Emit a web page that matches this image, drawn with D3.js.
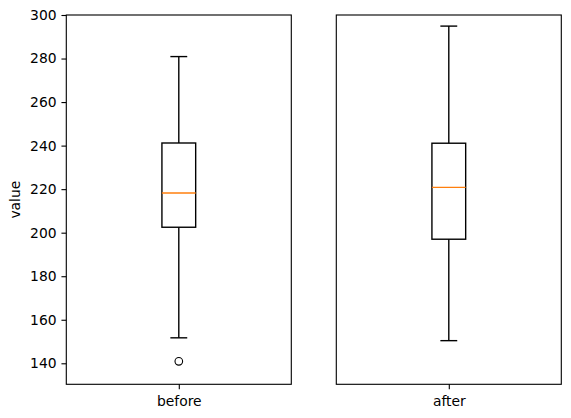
<!DOCTYPE html>
<html><head><meta charset="utf-8">
<script src="https://cdn.jsdelivr.net/npm/d3@7"></script>
<style>body{margin:0;background:#fff}svg{display:block}text{font-family:"DejaVu Sans",sans-serif}</style>
</head><body><svg id="c" width="571" height="418"></svg>
<script>
const categories = ["before", "after"];
const whiskerLow = [151.7, 150.4];
const q1 = [202.5, 197.0];
const median = [218.2, 220.8];
const q3 = [241.2, 241.1];
const whiskerHigh = [280.9, 294.9];
const outliers = [[140.9], []];
const yTicks = [140, 160, 180, 200, 220, 240, 260, 280, 300];
const yDomain = [130.35, 300];

const svg = d3.select("#c");
const plotTop = 15, plotBottom = 384.3;
const panels = [{left: 66.3, right: 291.3}, {left: 336.3, right: 561.3}];
const y = d3.scaleLinear().domain(yDomain).range([plotBottom, plotTop]);
const tick = 4.86, pad = 4.86, lw = 1.39, spine = 1.11;

categories.forEach((cat, i) => {
  const p = panels[i];
  const x = d3.scaleLinear().domain([0.5, 1.5]).range([p.left, p.right]);
  const g = svg.append("g");
  const cx = x(1), bw = x(1.075) - x(0.925), cw = bw / 2;
  g.append("line").attr("x1", cx).attr("x2", cx).attr("y1", y(whiskerLow[i])).attr("y2", y(q1[i])).attr("stroke", "#000").attr("stroke-width", lw);
  g.append("line").attr("x1", cx).attr("x2", cx).attr("y1", y(q3[i])).attr("y2", y(whiskerHigh[i])).attr("stroke", "#000").attr("stroke-width", lw);
  [whiskerLow[i], whiskerHigh[i]].forEach(v => {
    g.append("line").attr("x1", cx - cw / 2).attr("x2", cx + cw / 2).attr("y1", y(v)).attr("y2", y(v)).attr("stroke", "#000").attr("stroke-width", lw);
  });
  g.append("rect").attr("x", cx - bw / 2).attr("width", bw).attr("y", y(q3[i])).attr("height", y(q1[i]) - y(q3[i]))
    .attr("fill", "none").attr("stroke", "#000").attr("stroke-width", lw);
  g.append("line").attr("x1", cx - bw / 2).attr("x2", cx + bw / 2).attr("y1", y(median[i])).attr("y2", y(median[i])).attr("stroke", "#ff7f0e").attr("stroke-width", lw);
  g.selectAll("circle.o").data(outliers[i]).join("circle").attr("cx", cx).attr("cy", d => y(d)).attr("r", 3.8)
    .attr("fill", "none").attr("stroke", "#000").attr("stroke-width", 1.1);
  const xa = svg.append("g").attr("transform", `translate(0,${plotBottom})`)
    .call(d3.axisBottom(x).tickValues([1]).tickFormat(() => cat).tickSize(tick).tickPadding(pad + 1.8));
  xa.select(".domain").remove();
  xa.selectAll("line").attr("stroke-width", spine);
  xa.selectAll("text").attr("font-size", 13.89).attr("fill", "#000");
  svg.append("rect").attr("x", p.left).attr("y", plotTop).attr("width", p.right - p.left).attr("height", plotBottom - plotTop)
    .attr("fill", "none").attr("stroke", "#000").attr("stroke-width", spine);
  if (i === 0) {
    const ya = svg.append("g").attr("transform", `translate(${p.left},0)`)
      .call(d3.axisLeft(y).tickValues(yTicks).tickFormat(d3.format("d")).tickSize(tick).tickPadding(pad));
    ya.select(".domain").remove();
    ya.selectAll("line").attr("stroke-width", spine);
    ya.selectAll("text").attr("font-size", 13.89).attr("fill", "#000");
  }
});
svg.append("text").attr("transform", `translate(${20},${(plotTop + plotBottom) / 2}) rotate(-90)`)
  .attr("text-anchor", "middle").attr("font-size", 13.89).text("value");
</script></body></html>
